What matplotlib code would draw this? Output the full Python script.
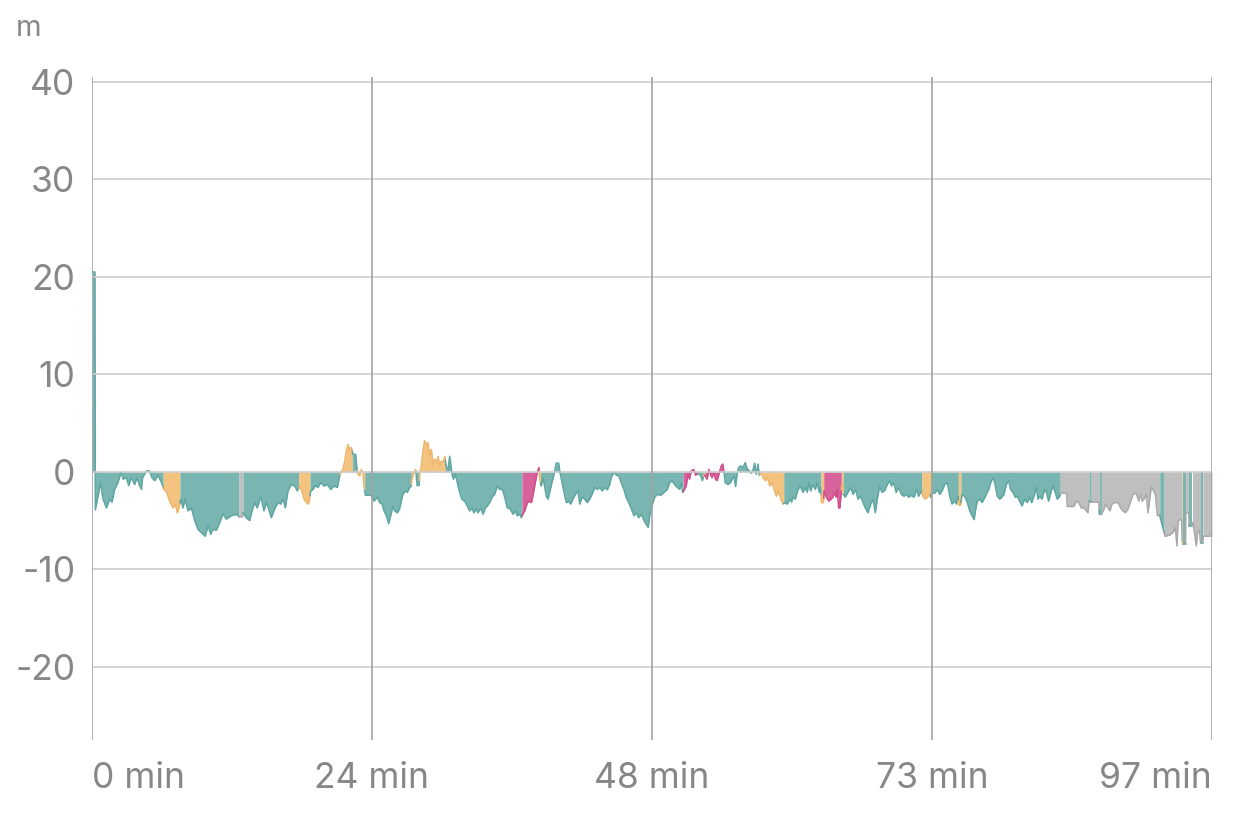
import numpy as np
import matplotlib
matplotlib.use("Agg")
import matplotlib.pyplot as plt

plt.rcParams["font.family"] = ["Inter", "DejaVu Sans"]

# elapsed time (min) and depth deviation (m)
minutes = [
    0.0, 0.25, 0.29, 0.52, 0.75, 0.96, 1.25, 1.54, 1.74, 1.97, 2.26, 2.55, 2.7, 2.99, 3.19, 3.42,
    3.71, 3.9, 4.15, 4.3, 4.4, 4.73, 5.0, 5.22, 5.46, 5.75, 5.98, 6.15, 6.24, 6.45, 6.76, 7.05,
    7.25, 7.43, 7.57, 7.72, 7.92, 8.1, 8.36, 8.65, 8.94, 9.23, 9.66, 9.86, 10.1, 10.33, 10.53,
    10.82, 11.12, 11.4, 11.69, 11.99, 12.13, 12.56, 12.8, 13.1, 13.15, 13.43, 13.73, 13.93,
    14.16, 14.39, 14.68, 14.97, 15.18, 15.38, 15.61, 15.9, 16.19, 16.43, 16.63, 16.83, 17.06,
    17.35, 17.65, 17.87, 18.08, 18.27, 18.46, 18.66, 18.86, 19.04, 19.24, 19.44, 19.67, 19.9,
    20.2, 20.5, 20.78, 21.07, 21.36, 21.56, 21.7, 21.85, 22.0, 22.14, 22.29, 22.43, 22.58,
    22.72, 22.95, 23.04, 23.15, 23.3, 23.44, 23.58, 23.68, 23.8, 24.3, 24.55, 24.84, 25.04,
    25.25, 25.42, 25.62, 25.83, 26.0, 26.2, 26.35, 26.58, 26.78, 26.92, 27.07, 27.27, 27.45,
    27.65, 27.78, 27.85, 28.03, 28.18, 28.3, 28.47, 28.55, 28.65, 28.8, 28.95, 29.1, 29.25,
    29.4, 29.54, 29.69, 29.83, 29.98, 30.12, 30.27, 30.41, 30.59, 30.7, 30.85, 31.0, 31.14,
    31.25, 31.34, 31.46, 31.63, 31.8, 32.0, 32.2, 32.44, 32.67, 32.87, 33.08, 33.25, 33.46,
    33.6, 33.84, 34.04, 34.24, 34.41, 34.62, 34.82, 35.05, 35.28, 35.49, 35.72, 35.93, 36.15,
    36.4, 36.65, 36.85, 37.02, 37.23, 37.37, 37.43, 37.67, 37.9, 38.1, 38.25, 38.41, 38.59,
    38.76, 38.91, 38.97, 39.11, 39.26, 39.4, 39.55, 39.7, 39.84, 40.04, 40.22, 40.42, 40.62,
    40.74, 40.92, 41.09, 41.29, 41.48, 41.67, 41.87, 42.08, 42.31, 42.46, 42.66, 42.89, 43.12,
    43.33, 43.53, 43.76, 43.98, 44.2, 44.42, 44.63, 44.86, 45.06, 45.2, 45.44, 45.64, 45.85,
    46.07, 46.3, 46.5, 46.72, 46.95, 47.18, 47.38, 47.59, 47.82, 48.05, 48.25, 48.42, 48.55,
    48.75, 48.98, 49.21, 49.5, 49.79, 50.08, 50.29, 50.49, 50.72, 50.95, 51.16, 51.3, 51.42,
    51.5, 51.73, 51.88, 52.02, 52.17, 52.38, 52.55, 52.69, 52.85, 52.99, 53.13, 53.3, 53.38,
    53.55, 53.7, 53.84, 53.98, 54.13, 54.27, 54.42, 54.62, 54.77, 54.91, 55.03, 55.12, 55.36,
    55.58, 55.73, 55.88, 56.03, 56.15, 56.29, 56.47, 56.67, 56.87, 57.05, 57.25, 57.4, 57.55,
    57.69, 57.83, 57.98, 58.09, 58.3, 58.41, 58.61, 58.8, 59.0, 59.2, 59.37, 59.58, 59.77,
    59.96, 60.16, 60.3, 60.52, 60.74, 60.9, 61.02, 61.22, 61.46, 61.66, 61.9, 62.09, 62.27,
    62.39, 62.56, 62.76, 62.97, 63.14, 63.31, 63.42, 63.5, 63.68, 63.73, 63.93, 64.14, 64.32,
    64.5, 64.65, 64.78, 64.88, 65.0, 65.11, 65.2, 65.25, 65.38, 65.4, 65.57, 65.81, 66.04,
    66.25, 66.48, 66.68, 66.91, 67.12, 67.32, 67.55, 67.79, 67.99, 68.19, 68.36, 68.57, 68.77,
    69.0, 69.23, 69.44, 69.6, 69.81, 70.0, 70.22, 70.45, 70.68, 70.9, 71.09, 71.3, 71.56,
    71.79, 71.96, 72.2, 72.34, 72.54, 72.72, 72.92, 73.0, 73.06, 73.36, 73.59, 73.8, 74.0,
    74.23, 74.46, 74.67, 74.87, 75.1, 75.25, 75.39, 75.45, 75.62, 75.74, 75.97, 76.2, 76.41,
    76.61, 76.79, 76.93, 77.07, 77.27, 77.48, 77.65, 77.85, 78.06, 78.29, 78.46, 78.64, 78.81,
    79.02, 79.2, 79.39, 79.6, 79.8, 79.97, 80.17, 80.37, 80.55, 80.75, 80.96, 81.19, 81.42,
    81.63, 81.8, 82.0, 82.2, 82.35, 82.5, 82.7, 82.93, 83.08, 83.28, 83.51, 83.65, 83.85,
    84.03, 84.24, 84.3, 84.85, 84.9, 85.49, 85.69, 85.9, 86.12, 86.35, 86.56, 86.7, 86.8,
    86.99, 87.64, 87.7, 87.87, 88.07, 88.24, 88.44, 88.62, 88.79, 89.03, 89.32, 89.55, 89.75,
    89.96, 90.19, 90.42, 90.62, 90.91, 91.12, 91.29, 91.42, 91.58, 91.78, 91.93, 92.08, 92.22,
    92.4, 92.57, 92.74, 92.9, 92.95, 93.33, 93.4, 93.8, 94.12, 94.3, 94.45, 94.55, 94.85, 94.9,
    95.0, 95.2, 95.22, 95.48, 95.5, 95.8, 95.85, 96.13, 96.25, 96.4, 96.5, 96.7, 96.75, 97.5,
]
depth = [
    20.5, 20.5, -3.9, -2.5, -1.1, -2.8, -3.7, -2.8, -3.1, -1.8, -1.1, 0.0, -0.75, -0.6, -1.4, -0.6,
    -1.3, -0.6, -1.4, -1.8, -0.6, 0.1, 0.1, -0.6, -0.9, -0.35, -0.9, -1.4, -1.8, -1.95, -3.0, -3.7,
    -3.3, -4.2, -3.7, -2.8, -3.7, -2.8, -4.0, -3.7, -5.0, -5.9, -6.4, -6.6, -5.5, -6.4, -5.9,
    -6.0, -5.2, -4.3, -4.85, -4.6, -4.5, -4.35, -4.6, -4.6, -4.2, -4.7, -5.0, -4.0,
    -3.15, -3.7, -2.5, -4.0, -3.15, -3.8, -4.7, -3.8, -3.15, -3.3, -2.8, -3.7, -1.95,
    -1.3, -1.45, -1.95, -1.45, -1.95, -2.8, -3.15, -3.3, -1.95, -1.8, -1.4, -1.6, -1.1,
    -1.45, -1.3, -1.8, -1.45, -1.6, -0.4, 0.0, 0.3, 1.1, 2.15, 2.8, 2.3, 2.5,
    1.8, 1.8, 0.6, -0.25, -0.4, 0.25, -0.1, -1.45, -2.4, -2.4, -3.0, -2.6, -3.15,
    -3.3, -4.0, -4.5, -5.3, -4.5, -3.5, -4.0, -4.2, -3.8, -3.0, -2.3, -1.95, -2.1,
    -1.6, -1.45, -0.75, -0.05, 0.25, -1.4, -1.4, 0.0, 0.45, 2.0, 3.2, 2.8, 3.0,
    1.6, 2.3, 0.8, 1.3, 1.0, 1.6, 0.6, 1.1, 1.0, 1.6, 0.45, 0.3, 1.6,
    0.6, -0.25, -0.75, -0.25, -1.1, -2.1, -2.8, -3.0, -3.5, -4.0, -3.7, -4.2, -3.8,
    -4.2, -3.7, -4.35, -3.7, -3.5, -3.15, -2.6, -2.3, -1.45, -1.8, -1.8, -2.6, -3.7,
    -3.8, -4.35, -4.0, -4.5, -4.35, -4.7, -4.5, -4.0, -3.15, -3.0, -3.15, -2.3, -1.1,
    -0.05, 0.45, -0.75, -1.45, -0.6, -1.45, -2.5, -2.8, -2.1, -1.1, -0.25, 0.9, 0.9,
    -0.05, -1.1, -2.1, -3.15, -3.0, -3.3, -2.8, -2.3, -1.95, -3.3, -2.6, -2.8, -3.15,
    -2.8, -2.3, -1.6, -1.8, -1.6, -1.95, -1.6, -1.85, -1.3, -0.6, 0.0, -0.35, -0.4,
    -1.1, -1.8, -2.6, -3.15, -3.8, -4.5, -4.2, -4.7, -4.35, -5.0, -5.4, -5.7, -4.5,
    -3.5, -2.6, -2.3, -2.4, -2.1, -1.8, -1.1, -0.9, -1.3, -1.6, -1.8, -1.1, -2.1,
    -1.95, -1.45, -0.25, -0.75, 0.1, 0.25, -0.35, -0.15, -0.25, -0.4, -0.9, -0.25, -0.4,
    -0.75, 0.25, -0.25, -0.6, -0.05, -0.75, -0.9, -0.05, 0.6, 0.8, -0.05, -1.1, -1.3,
    -1.1, -0.75, -0.4, -1.5, -0.25, 0.45, 0.6, 0.45, 0.95, 0.25, 0.1, -0.15, 0.25,
    0.9, -0.25, 0.8, -0.35, -0.05, -0.6, -0.9, -0.6, -1.45, -1.1, -1.8, -2.5, -1.95,
    -2.8, -3.3, -3.15, -3.3, -2.8, -3.1, -2.6, -2.8, -1.8, -1.5, -2.1, -1.6, -2.1,
    -1.1, -1.95, -1.3, -1.8, -1.1, -2.1, -1.6, -3.15, -3.15, -1.95, -2.6, -3.0, -2.8,
    -2.6, -2.1, -2.6, -1.8, -3.7, -3.7, -2.4, -1.45, -1.45, -2.3, -2.6, -2.1, -1.6,
    -2.3, -1.8, -2.8, -2.5, -3.15, -3.7, -4.2, -3.3, -2.8, -4.2, -2.8, -1.45, -2.1,
    -1.95, -1.3, -0.9, -1.45, -1.1, -2.1, -1.6, -2.3, -2.5, -2.3, -2.6, -2.4, -2.6,
    -1.8, -2.5, -1.95, -2.5, -2.8, -2.6, -2.3, -2.6, -2.2, -2.2, -1.8, -2.3, -1.95,
    -1.3, -1.1, -2.5, -3.3, -3.0, -3.3, -2.5, -3.4, -3.4, -2.3, -2.5, -3.15, -4.0,
    -4.5, -4.9, -3.8, -3.0, -2.8, -3.15, -2.8, -2.3, -1.8, -0.9, -0.6, -1.45, -2.5,
    -2.8, -2.6, -2.3, -1.3, -0.9, -1.8, -2.1, -2.6, -2.5, -3.0, -3.5, -2.8, -3.15,
    -2.6, -3.15, -2.5, -1.6, -2.8, -2.5, -2.8, -1.8, -2.1, -3.0, -1.95, -1.45, -2.1,
    -2.8, -2.5, -2.2, -2.2, -3.55, -3.55, -3.0, -3.15, -3.7, -3.7, -4.0, -4.2, -3.0,
    -3.1, -3.1, -4.35, -4.35, -3.9, -3.3, -3.7, -4.0, -3.3, -3.15, -3.15, -3.7, -4.0,
    -4.2, -3.8, -3.0, -2.3, -2.2, -3.0, -2.3, -3.0, -2.8, -2.3, -4.2, -2.8, -1.45,
    -1.95, -2.3, -4.5, -4.4, -4.5, -6.2, -6.6, -6.5, -6.2, -5.7, -7.6, -5.0, -4.85, -7.1,
    -7.4, -7.4, -4.2, -4.2, -5.5, -5.5, -5.2, -7.6, -6.2, -6.0, -7.25, -7.25, -6.6, -6.6,
]

# colour zones along the dive: start, end (min), kind
zone_start = [0.0, 6.2, 7.66, 12.8, 13.15, 18.0, 18.98, 21.6, 22.66, 23.1, 23.74, 27.8, 28.2,
              28.5, 30.76, 37.43, 38.93, 39.05, 51.47, 52.75, 53.25, 53.35, 55.03, 58.15, 60.22,
              63.46, 63.7, 65.23, 65.4, 72.25, 73.0, 75.42, 75.65, 84.29, 86.8, 86.99, 87.68,
              87.87, 92.95, 93.33, 94.9, 95.0, 95.2, 95.5, 95.8, 96.5, 96.7]
zone_end = zone_start[1:] + [97.5]
zone_kind = ["ok", "warn", "ok", "none", "ok", "warn", "ok", "warn", "ok", "warn", "ok", "warn",
             "ok", "warn", "ok", "alert", "warn", "ok", "alert", "ok", "warn", "alert", "ok",
             "warn", "ok", "warn", "alert", "warn", "ok", "warn", "ok", "warn", "ok", "none",
             "ok", "none", "ok", "none", "ok", "none", "warn", "ok", "none", "ok", "none", "ok",
             "none"]

fill_col = {"ok": "#79b5b1", "warn": "#f3c37f", "alert": "#d8629b", "none": "#bfbfbf"}
edge_col = {"ok": "#5ea6a1", "warn": "#edb66c", "alert": "#d04d8c", "none": "#a9a9a9"}

x_ticks = [0, 24.375, 48.75, 73.125, 97.5]
x_labels = ["0 min", "24 min", "48 min", "73 min", "97 min"]
y_ticks = [-20, -10, 0, 10, 20, 30, 40]
y_labels = ["-20", "-10", "0", "10", "20", "30", "40"]

t = np.array(minutes)
d = np.array(depth)

fig = plt.figure(figsize=(12.42, 8.31), dpi=100)
ax = fig.add_axes([92 / 1242, 1 - 740 / 831, 1120 / 1242, 663 / 831])

for s, e, k in zip(zone_start, zone_end, zone_kind):
    inside = (t > s) & (t < e)
    xs = np.concatenate([[s], t[inside], [e]])
    ys = np.concatenate([[np.interp(s, t, d)], d[inside], [np.interp(e, t, d)]])
    ax.fill_between(xs, 0, ys, color=fill_col[k], linewidth=0, zorder=2)
    ax.plot(xs, ys, color=edge_col[k], linewidth=1.1, zorder=3)

ax.set_xlim(0, 97.5)
ax.set_ylim(-27.5, 40.5)

ax.set_yticks(y_ticks)
ax.set_yticklabels(y_labels)
ax.set_xticks(x_ticks)
ax.set_xticklabels(x_labels)
xl = ax.get_xticklabels()
xl[0].set_horizontalalignment("left")
xl[-1].set_horizontalalignment("right")

ax.tick_params(axis="both", length=0, labelsize=25.5, labelcolor="#878787")
ax.tick_params(axis="y", pad=12)
ax.tick_params(axis="x", pad=16)

for yv in y_ticks:
    ax.axhline(yv, color="#cdcdcd", linewidth=1.2, zorder=4)
for xv in x_ticks:
    ax.axvline(xv, color="#a3a3a3", linewidth=1.2, zorder=4)

for sp in ax.spines.values():
    sp.set_visible(False)

fig.text(16 / 1242, 1 - 29 / 831, "m", fontsize=21, color="#878787", va="center", ha="left")

fig.savefig("out.png", dpi=100, facecolor="white")
